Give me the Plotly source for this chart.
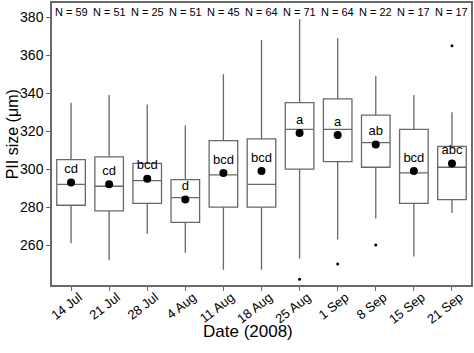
import plotly.graph_objects as go

dates = ["14 Jul", "21 Jul", "28 Jul", "4 Aug", "11 Aug", "18 Aug", "25 Aug", "1 Sep", "8 Sep", "15 Sep", "21 Sep"]
n_counts = [59, 51, 25, 51, 45, 64, 71, 64, 22, 17, 17]
upper_whisker = [335, 339, 334, 323, 350, 368, 379, 369, 349, 339, 330]
q3 = [305, 306.5, 303, 294.5, 315, 316, 335, 337, 328.5, 321, 312]
median = [292, 291, 294, 285, 297, 292, 321, 321, 314, 298, 301]
q1 = [281, 278, 282, 272, 280, 280, 300, 304, 301, 282, 284]
lower_whisker = [261, 252, 266, 256, 247, 247, 253, 263, 274, 254, 277]
means = [293, 292, 295, 284, 298, 299, 319, 318, 313, 299, 303]
letters = ["cd", "cd", "bcd", "d", "bcd", "bcd", "a", "a", "ab", "bcd", "abc"]
outlier_dates = ["25 Aug", "1 Sep", "8 Sep", "21 Sep"]
outlier_values = [242, 250, 260, 365]

idx = list(range(len(dates)))
grey = "#686868"
font_family = "Liberation Sans, Arial"

fig = go.Figure()
fig.add_trace(go.Box(
    x=idx, q1=q1, median=median, q3=q3,
    lowerfence=lower_whisker, upperfence=upper_whisker,
    width=0.75, whiskerwidth=0,
    fillcolor="white", line=dict(color=grey, width=1.3),
    boxpoints=False, hoverinfo="skip", showlegend=False,
))
fig.add_trace(go.Scatter(
    x=[dates.index(d) for d in outlier_dates], y=outlier_values,
    mode="markers", marker=dict(color="black", size=3),
    showlegend=False,
))
fig.add_trace(go.Scatter(
    x=idx, y=means, mode="markers+text", text=letters,
    textposition="top center",
    textfont=dict(family=font_family, size=13, color="black"),
    marker=dict(color="black", size=8),
    showlegend=False,
))
for i, n in enumerate(n_counts):
    fig.add_annotation(x=i, y=383, text=f"N = {n}", showarrow=False,
                       font=dict(family=font_family, size=11, color="black"))

fig.add_annotation(x=0.467, y=-0.165, xref="paper", yref="paper", text="Date (2008)",
                   showarrow=False, yanchor="middle", xanchor="center",
                   font=dict(family=font_family, size=17, color="black"))
fig.add_annotation(x=-0.095, y=0.535, xref="paper", yref="paper", text="PII size (μm)",
                   showarrow=False, yanchor="middle", xanchor="center", textangle=-90,
                   font=dict(family=font_family, size=16, color="black"))

fig.update_layout(
    width=474, height=353,
    margin=dict(l=52, r=2, t=1, b=68),
    paper_bgcolor="white", plot_bgcolor="white",
    font=dict(family=font_family, color="black"),
    xaxis=dict(
        range=[-0.5, 10.5], tickmode="array", tickvals=idx, ticktext=dates,
        tickangle=-38, ticks="outside", ticklen=4, tickcolor=grey,
        ticklabelshift=8, ticklabelstandoff=-6,
        showline=True, linecolor=grey, linewidth=1.5, mirror=True,
        showgrid=False, zeroline=False, tickfont=dict(size=13),
    ),
    yaxis=dict(
        range=[239, 387.5], tickvals=[260, 280, 300, 320, 340, 360, 380],
        ticks="outside", ticklen=4, tickcolor=grey,
        showline=True, linecolor=grey, linewidth=1.5, mirror=True,
        showgrid=False, zeroline=False, tickfont=dict(size=14),
    ),
)
fig.write_html("out.html")
